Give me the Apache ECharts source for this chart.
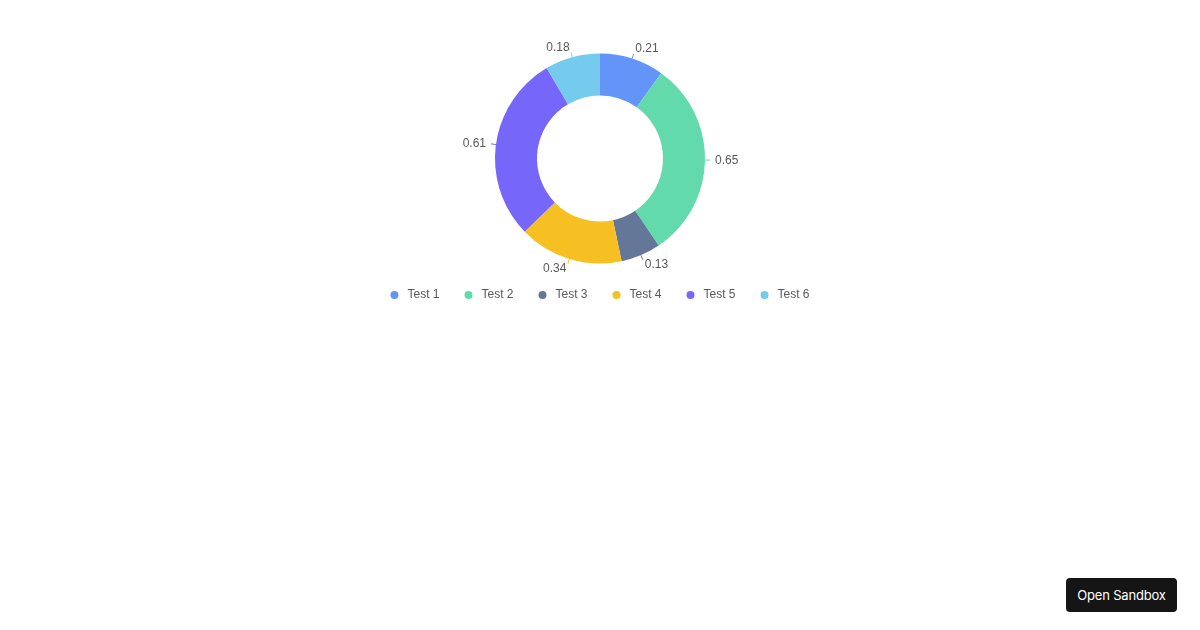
<!DOCTYPE html>
<html>
<head>
<meta charset="utf-8">
<title>Pie</title>
<script src="https://cdn.jsdelivr.net/npm/echarts@6/dist/echarts.min.js"></script>
<style>
  html, body { margin: 0; padding: 0; background: #fff; }
  #main { width: 1200px; height: 630px; }
  .sandbox-btn {
    position: absolute; left: 1066px; top: 578px; width: 111px; height: 34px;
    background: #151515; color: #fff; border-radius: 4px;
    font: 13px Inter, "Noto Sans", sans-serif; line-height: 34px; text-align: center;
    letter-spacing: -0.2px;
  }
</style>
</head>
<body>
<div id="main"></div>
<div class="sandbox-btn">Open Sandbox</div>
<script>
// data
const categories = ['Test 1', 'Test 2', 'Test 3', 'Test 4', 'Test 5', 'Test 6']
const values = [0.21, 0.65, 0.13, 0.34, 0.61, 0.18]
const colors = ['#6395F9', '#62DAAB', '#657798', '#F6C022', '#7666F9', '#74CBED']

const chart = echarts.init(document.getElementById('main'))

chart.setOption({
  animation: false,
  color: colors,
  legend: {
    top: 284,
    left: 'center',
    icon: 'circle',
    itemWidth: 8,
    itemHeight: 8,
    itemGap: 25,
    textStyle: {
      color: '#595959', fontSize: 12, padding: [0, 0, 0, 4],
      fontFamily: 'Liberation Sans, Arial, sans-serif'
    },
    data: categories
  },
  series: [{
    type: 'pie',
    center: [600, 158.5],
    radius: [63, 105],
    startAngle: 90,
    clockwise: true,
    label: {
      show: true,
      formatter: '{c}',
      color: '#595959',
      fontSize: 12,
      distanceToLabelLine: 0,
      fontFamily: 'Liberation Sans, Arial, sans-serif'
    },
    // line reaches the text anchor, but only the first 5px are drawn
    labelLine: { show: true, length: 10, length2: 0, lineStyle: { width: 1, type: [5, 40] } },
    emphasis: { disabled: true },
    data: categories.map((name, i) => ({ name, value: values[i] }))
  }]
})
</script>
</body>
</html>
